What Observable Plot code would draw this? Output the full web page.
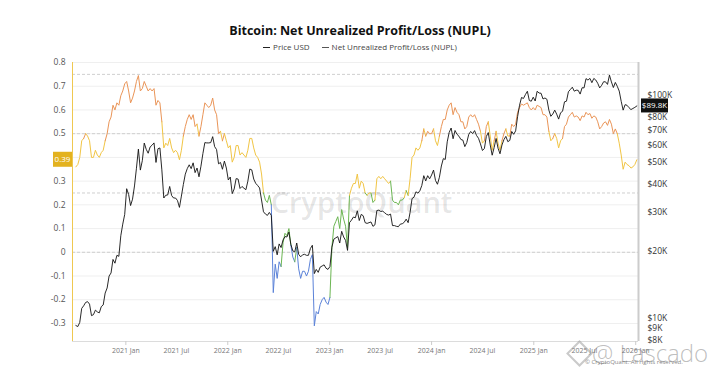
<!DOCTYPE html>
<html><head><meta charset="utf-8">
<script src="https://cdn.jsdelivr.net/npm/d3@7"></script>
<script src="https://cdn.jsdelivr.net/npm/@observablehq/plot@0.6"></script>
<style>
body{margin:0;background:#fff;font-family:"Open Sans",sans-serif;}
#wrap{position:relative;width:720px;height:383px;overflow:hidden;background:#fff;}
#head{position:relative;height:56px;}
#title{position:absolute;top:22px;left:0;width:720px;text-align:center;font-size:12.5px;font-weight:700;color:#111;}
#legend{position:absolute;top:41px;left:0;width:720px;text-align:center;font-size:8px;color:#444;}
#legend .it{margin:0 6px;}
#legend .sw{display:inline-block;width:7px;border-top:1px solid #222;vertical-align:middle;margin-right:3px;}
#copy{position:absolute;left:585px;top:358px;font-size:6px;color:#888;white-space:nowrap;}
#lascado{position:absolute;left:592px;top:338px;font-size:24px;line-height:30px;color:rgba(110,110,110,0.45);font-family:"Open Sans",sans-serif;font-weight:300;white-space:nowrap;}
#logo{position:absolute;left:570px;top:344px;width:15px;height:15px;border:2px solid rgba(150,150,150,0.5);transform:rotate(45deg);}
</style></head>
<body>
<div id="wrap">
  <div id="head">
    <div id="title">Bitcoin: Net Unrealized Profit/Loss (NUPL)</div>
    <div id="legend"><span class="it"><span class="sw"></span>Price USD</span><span class="it"><span class="sw" style="border-color:#555"></span>Net Unrealized Profit/Loss (NUPL)</span></div>
  </div>
  <div id="chart"></div>
  <div id="copy">© CryptoQuant. All rights reserved.</div>
  <div id="logo"></div>
  <div id="lascado">@ Lascado</div>
</div>
<script>
// ---- data (weekly, starting Monday 2020-07-06) ----
const startDate = "2020-07-06";
const price2020 = [9300, 9200, 9600, 11100, 11400, 11800, 11900, 11600, 10300, 10400, 10900, 10700, 10600, 11300, 11500, 13000, 13700, 15500, 16000, 18400, 17700, 19200, 19000, 23500, 26500, 29300];
const price2021 = [38200, 36000, 32100, 34300, 39300, 47200, 57500, 46300, 51000, 61200, 57400, 55100, 58800, 59900, 61300, 50100, 57700, 58200, 46400, 34700, 35700, 35800, 39100, 35600, 34700, 34700, 33800, 31500, 35400, 39900, 44400, 47000, 48900, 47000, 49900, 45100, 47300, 43200, 48200, 54900, 61500, 61300, 61300, 61500, 65400, 59000, 57200, 49400, 50100, 46700, 50800, 47300];
const price2022 = [41800, 43100, 36300, 38100, 42400, 42200, 38300, 39100, 38400, 37800, 41300, 46800, 46400, 42200, 40400, 39500, 38500, 34000, 30100, 29400, 29000, 29900, 29000, 20000, 21000, 19300, 21600, 20800, 22500, 23300, 23200, 24400, 21500, 20100, 19900, 21800, 19400, 18900, 19300, 19400, 19200, 19200, 20600, 21300, 15900, 16600, 16100, 17000, 17200, 17400, 16800, 16600];
const price2023 = [17100, 20900, 22700, 23000, 23300, 21800, 24600, 23200, 22400, 20200, 26900, 27600, 28500, 28300, 30400, 27500, 29300, 28900, 26900, 26700, 26900, 27100, 25900, 26300, 30500, 30600, 30200, 30300, 29800, 29300, 29100, 29400, 26100, 26100, 25900, 25800, 26500, 26600, 27000, 27900, 26900, 29900, 34500, 35000, 37000, 36500, 37400, 39500, 43700, 41400, 43700, 42300];
const price2024 = [44000, 46300, 41600, 40000, 43000, 48300, 52100, 51700, 62000, 68300, 71500, 64000, 69700, 67000, 65700, 63500, 63100, 59000, 61500, 66900, 69000, 67500, 69600, 66200, 64300, 60700, 56700, 57800, 65500, 68200, 60000, 54000, 58400, 64200, 58000, 54800, 60000, 63400, 65600, 62100, 62900, 69000, 67000, 69400, 80400, 90500, 98000, 97000, 101000, 104500, 95000, 94300, 98300];
const price2025 = [94500, 104500, 102600, 102400, 96500, 97500, 96200, 86000, 80700, 82600, 86000, 82500, 78400, 83700, 85000, 93700, 94300, 104000, 106400, 109000, 104600, 105700, 105500, 101500, 108400, 108200, 119100, 117300, 119400, 114200, 119300, 117400, 113500, 108200, 111100, 115300, 115200, 112200, 123500, 115100, 108600, 114500, 110000, 104700, 94200, 86000, 91000, 90400, 88200, 86500, 87500, 88500];
const price2026 = [89800];

const nupl2020 = [0.36, 0.37, 0.40, 0.47, 0.48, 0.50, 0.49, 0.47, 0.40, 0.40, 0.43, 0.41, 0.40, 0.42, 0.43, 0.47, 0.50, 0.55, 0.57, 0.62, 0.60, 0.63, 0.62, 0.66, 0.68, 0.71];
const nupl2021 = [0.72, 0.68, 0.63, 0.65, 0.68, 0.72, 0.745, 0.68, 0.69, 0.72, 0.70, 0.68, 0.69, 0.68, 0.69, 0.62, 0.64, 0.63, 0.55, 0.44, 0.46, 0.45, 0.48, 0.44, 0.42, 0.43, 0.42, 0.39, 0.43, 0.49, 0.53, 0.56, 0.58, 0.56, 0.58, 0.53, 0.54, 0.49, 0.53, 0.58, 0.63, 0.62, 0.61, 0.62, 0.65, 0.60, 0.58, 0.50, 0.51, 0.47, 0.50, 0.47];
const nupl2022 = [0.44, 0.45, 0.38, 0.40, 0.45, 0.45, 0.41, 0.42, 0.41, 0.40, 0.43, 0.48, 0.48, 0.44, 0.41, 0.40, 0.38, 0.33, 0.25, 0.22, 0.21, 0.24, 0.20, -0.17, -0.05, -0.11, -0.04, -0.06, 0.04, 0.08, 0.07, 0.10, 0.03, -0.02, -0.04, 0.02, -0.07, -0.11, -0.08, -0.08, -0.10, -0.08, -0.03, -0.01, -0.31, -0.25, -0.26, -0.22, -0.20, -0.19, -0.21, -0.22];
const nupl2023 = [-0.19, 0.02, 0.11, 0.13, 0.15, 0.10, 0.18, 0.14, 0.11, 0.02, 0.24, 0.27, 0.29, 0.29, 0.33, 0.27, 0.30, 0.29, 0.25, 0.24, 0.25, 0.25, 0.21, 0.22, 0.31, 0.32, 0.31, 0.32, 0.31, 0.30, 0.29, 0.30, 0.22, 0.21, 0.21, 0.20, 0.22, 0.22, 0.23, 0.26, 0.24, 0.31, 0.40, 0.41, 0.44, 0.43, 0.44, 0.47, 0.52, 0.49, 0.51, 0.50];
const nupl2024 = [0.50, 0.52, 0.47, 0.45, 0.49, 0.53, 0.56, 0.56, 0.60, 0.62, 0.63, 0.58, 0.61, 0.59, 0.58, 0.55, 0.55, 0.52, 0.53, 0.57, 0.58, 0.57, 0.58, 0.56, 0.54, 0.51, 0.46, 0.47, 0.53, 0.55, 0.49, 0.43, 0.47, 0.51, 0.46, 0.43, 0.47, 0.50, 0.52, 0.49, 0.49, 0.54, 0.53, 0.54, 0.59, 0.61, 0.625, 0.62, 0.625, 0.63, 0.61, 0.60, 0.61];
const nupl2025 = [0.60, 0.62, 0.615, 0.61, 0.58, 0.58, 0.57, 0.51, 0.47, 0.48, 0.50, 0.48, 0.44, 0.47, 0.48, 0.53, 0.54, 0.57, 0.58, 0.59, 0.57, 0.575, 0.57, 0.555, 0.575, 0.57, 0.59, 0.58, 0.585, 0.565, 0.575, 0.57, 0.55, 0.52, 0.53, 0.545, 0.55, 0.535, 0.56, 0.54, 0.50, 0.52, 0.50, 0.46, 0.41, 0.35, 0.38, 0.37, 0.365, 0.355, 0.36, 0.37];
const nupl2026 = [0.39];

// ---- axis ticks / labels ----
const nuplTicks = [-0.3, -0.2, -0.1, 0, 0.1, 0.2, 0.3, 0.4, 0.5, 0.6, 0.7, 0.8];
const dashedGrid = [0, 0.25, 0.5, 0.75];
const priceTicks = [8000, 9000, 10000, 20000, 30000, 40000, 50000, 60000, 70000, 80000, 100000];
const priceTickLabels = ["$8K", "$9K", "$10K", "$20K", "$30K", "$40K", "$50K", "$60K", "$70K", "$80K", "$100K"];
const xTicks = ["2021-01-01", "2021-07-01", "2022-01-01", "2022-07-01", "2023-01-01", "2023-07-01", "2024-01-01", "2024-07-01", "2025-01-01", "2025-07-01", "2026-01-01"];
const xTickLabels = ["2021 Jan", "2021 Jul", "2022 Jan", "2022 Jul", "2023 Jan", "2023 Jul", "2024 Jan", "2024 Jul", "2025 Jan", "2025 Jul", "2026 Jan"];
const zoneNames = ["capitulation", "hope", "optimism", "belief", "euphoria"];
const zoneColors = ["#5b82d8", "#6cb653", "#f1c545", "#ea9558", "#d9534f"];

// ---- build tables ----
const price = [...price2020, ...price2021, ...price2022, ...price2023, ...price2024, ...price2025, ...price2026];
const nupl = [...nupl2020, ...nupl2021, ...nupl2022, ...nupl2023, ...nupl2024, ...nupl2025, ...nupl2026];
const start = new Date(startDate + "T00:00:00Z");
const dates = price.map((_, i) => d3.utcDay.offset(start, 7 * i));
if (price.length !== nupl.length) console.error("length mismatch", price.length, nupl.length);

const zone = v => v < 0 ? zoneNames[0] : v < 0.25 ? zoneNames[1] : v < 0.5 ? zoneNames[2] : v < 0.75 ? zoneNames[3] : zoneNames[4];
const rows = dates.map((d, i) => ({date: d, v: nupl[i], zone: zone(nupl[i])}));
const runs = [];
let run = 0;
rows.forEach((r, i) => {
  if (i > 0 && r.zone !== rows[i - 1].zone) {
    run++;
    runs.push({...rows[i - 1], zone: r.zone, run});
  }
  runs.push({...r, run});
});

// secondary (log price) axis mapped onto the NUPL axis
const toY = p => (223 * (Math.log10(p) - 4) - 66.2) / 237.3;
const priceRows = dates.map((d, i) => ({date: d, p: price[i]}));
const priceTickY = priceTicks.map(toY);
const xTickDates = xTicks.map(s => new Date(s + "T00:00:00Z"));
const janDates = xTickDates.filter(d => d.getUTCMonth() === 0);

const yDomain = [-0.376, 0.8];
const xDomain = [new Date("2020-06-24T00:00:00Z"), new Date("2026-01-11T00:00:00Z")];

const lastN = nupl[nupl.length - 1];
const lastP = price[price.length - 1];

function badges(index, scales, values, dims) {
  const g = d3.create("svg:g").attr("font-family", "Open Sans, sans-serif");
  const yl = scales.y(lastN);
  const left = dims.marginLeft;
  g.append("rect").attr("x", left - 19).attr("y", yl - 7.5).attr("width", 19).attr("height", 15).attr("fill", "#e3b21f");
  g.append("text").attr("x", left - 9.5).attr("y", yl).attr("dy", "0.35em").attr("text-anchor", "middle")
    .attr("fill", "#fff").attr("font-size", 8).text(d3.format(".2f")(lastN));
  const yr = scales.y(toY(lastP));
  const right = dims.width - dims.marginRight;
  g.append("rect").attr("x", right + 3).attr("y", yr - 7).attr("width", 27).attr("height", 14).attr("fill", "#111");
  g.append("text").attr("x", right + 16.5).attr("y", yr).attr("dy", "0.35em").attr("text-anchor", "middle")
    .attr("fill", "#fff").attr("font-size", 8).text("$" + (lastP / 1000).toFixed(1) + "K");
  return g.node();
}

const chart = Plot.plot({
  width: 720,
  height: 327,
  marginTop: 6,
  marginBottom: 42,
  marginLeft: 72,
  marginRight: 82,
  style: {fontFamily: "Open Sans, sans-serif", color: "#555", background: "#fff", overflow: "visible"},
  x: {type: "utc", domain: xDomain},
  y: {domain: yDomain},
  color: {domain: zoneNames, range: zoneColors},
  marks: [
    Plot.ruleY(nuplTicks, {stroke: "#efefef"}),
    Plot.ruleY(dashedGrid, {stroke: "#cfcfcf", strokeDasharray: "3,2"}),
    Plot.text(["CryptoQuant"], {text: d => d, frameAnchor: "middle", dx: 6, dy: 2, fontSize: 29, fontWeight: 600, fill: "#000", fillOpacity: 0.11}),
    Plot.ruleY([yDomain[0]], {stroke: "#dcdcdc"}),
    Plot.ruleX([xDomain[0]], {stroke: "#efc850"}),
    Plot.ruleX([xDomain[1]], {stroke: "#cccccc", strokeWidth: 2}),
    Plot.line(runs, {x: "date", y: "v", z: "run", stroke: "zone", strokeWidth: 1}),
    Plot.line(priceRows, {x: "date", y: d => toY(d.p), stroke: "#111", strokeWidth: 0.9}),
    Plot.axisY({ticks: nuplTicks, tickSize: 0, tickPadding: 7, fontSize: 8.5, label: null, tickFormat: d => d === 0 ? "0" : d.toFixed(1)}),
    Plot.axisY({anchor: "right", ticks: priceTickY, tickSize: 0, tickPadding: 9, fontSize: 8.5, fill: "#333", label: null,
      tickFormat: d => priceTickLabels[priceTickY.findIndex(t => Math.abs(t - d) < 1e-9)]}),
    Plot.axisX({ticks: xTickDates, tickSize: 0, tickPadding: 7, fontSize: 7, fill: "#777", label: null,
      tickFormat: d => xTickLabels[xTickDates.findIndex(t => +t === +d)]}),
    Plot.axisX({ticks: janDates, tickSize: 4, stroke: "#ccc", tickFormat: () => "", label: null}),
    badges
  ]
});
document.getElementById("chart").appendChild(chart);
</script>
</body></html>
